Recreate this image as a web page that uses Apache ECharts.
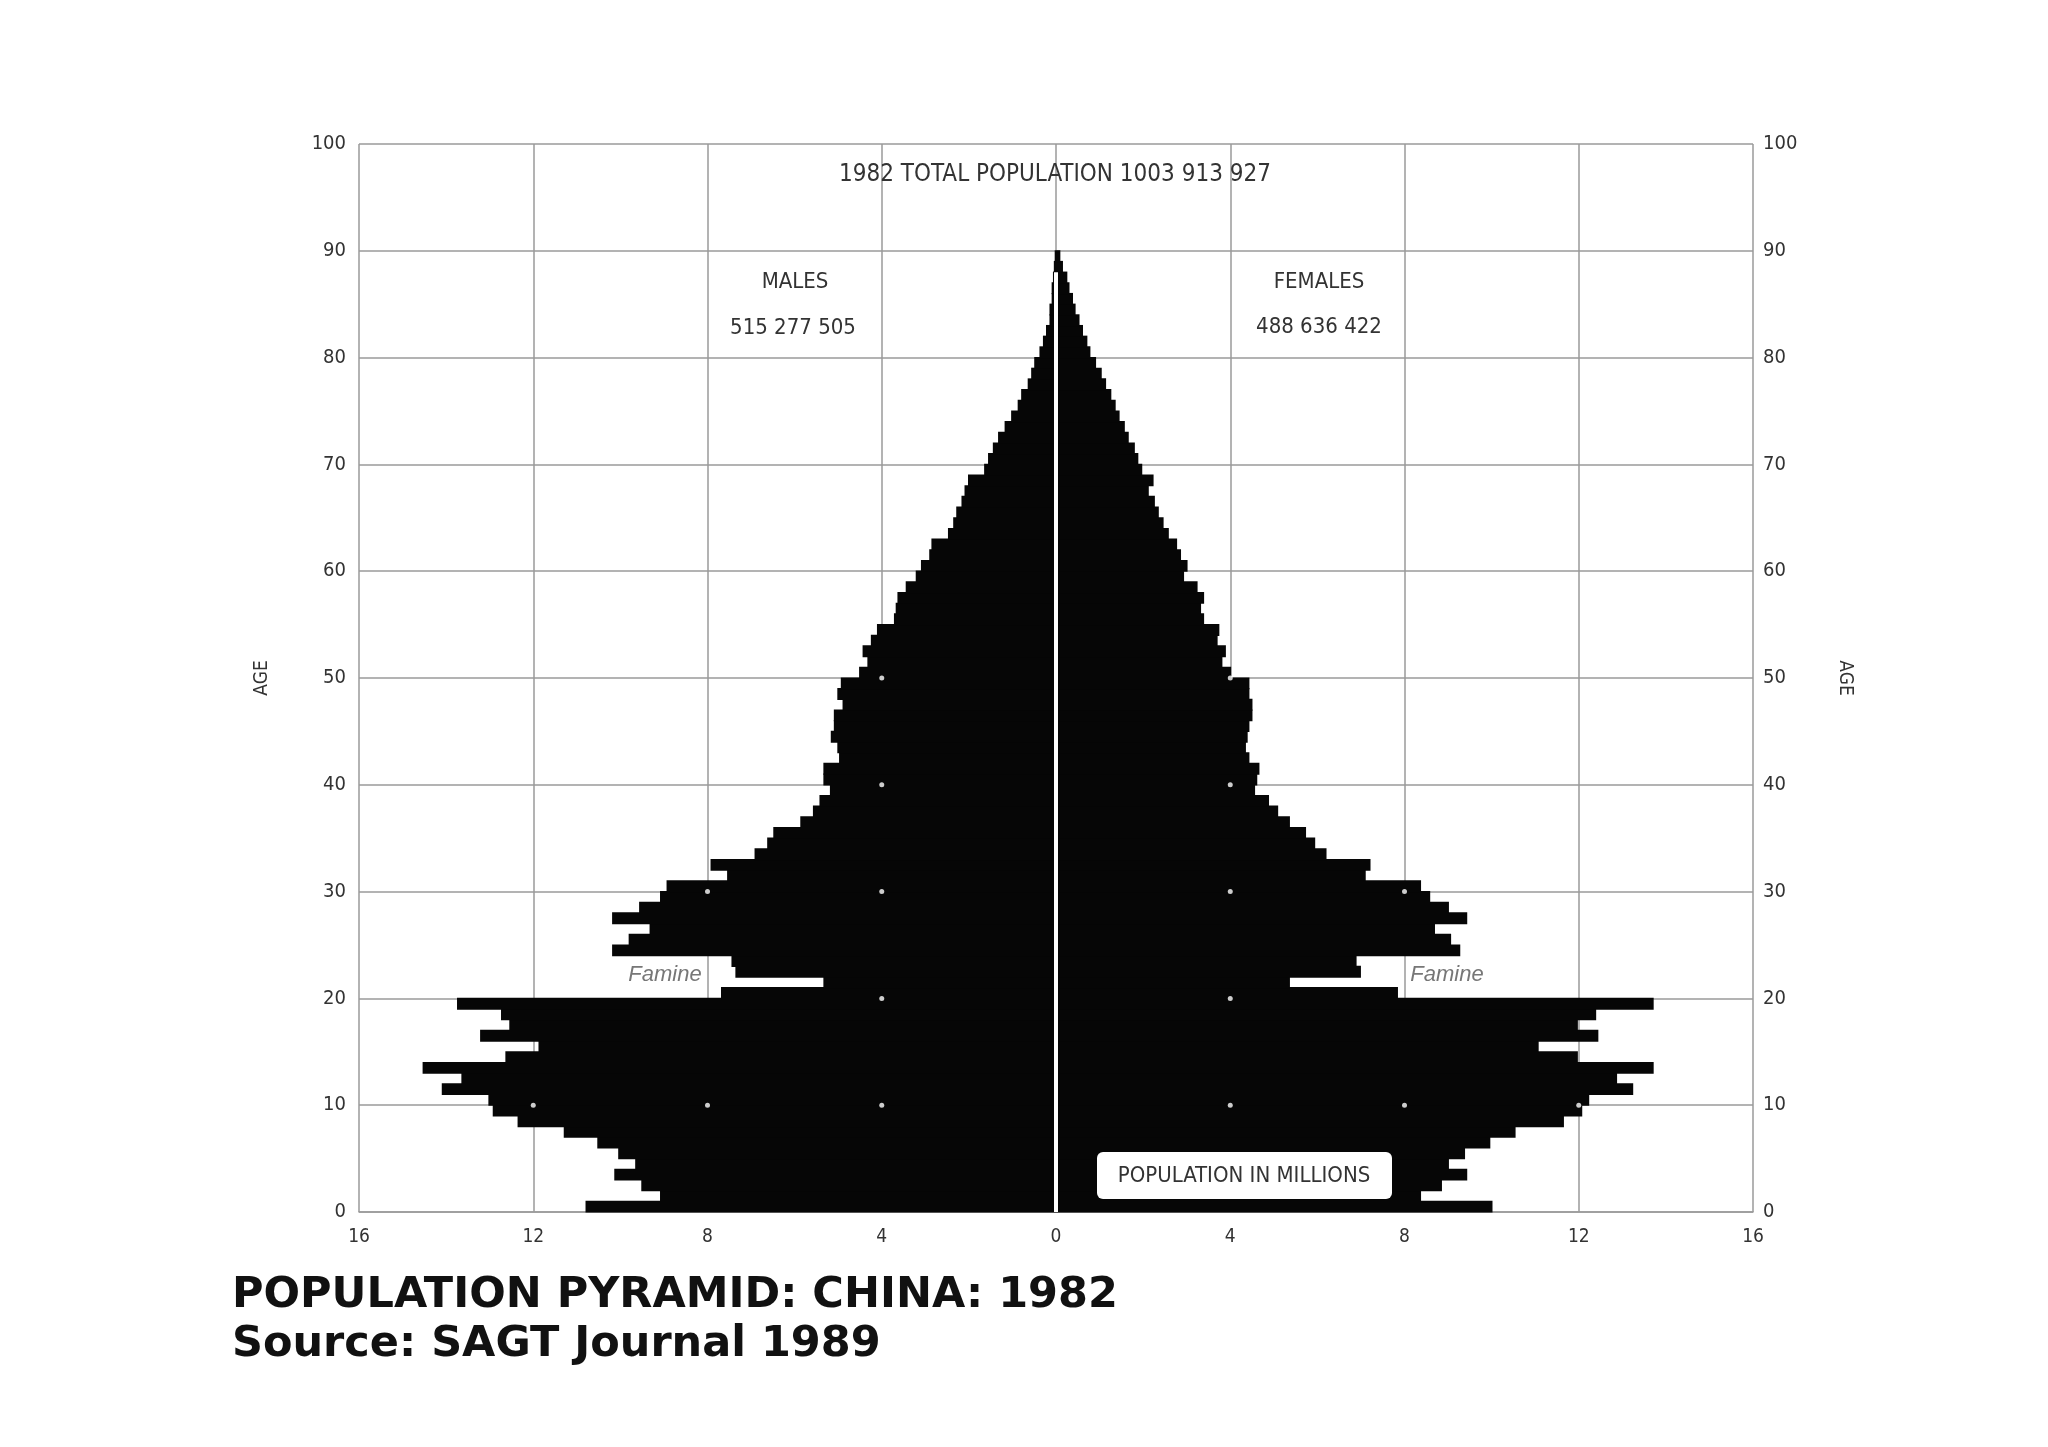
<!DOCTYPE html>
<html>
<head>
<meta charset="utf-8">
<title>Population Pyramid China 1982</title>
<script src="https://cdn.jsdelivr.net/npm/echarts@6/dist/echarts.min.js"></script>
<style>
    html, body { margin: 0; padding: 0; background: #fff; }
    #pyramid { width: 2048px; height: 1447px; }
</style>
</head>
<body>
<div id="pyramid"></div>
<script>
// population by single year of age (millions), index = age 0..89
var males = [
    10.8, 9.09, 9.52, 10.14, 9.66, 10.05, 10.53, 11.3, 12.36, 12.93,
    13.03, 14.1, 13.65, 14.54, 12.64, 11.88, 13.22, 12.55, 12.74, 13.75,
    7.69, 5.34, 7.36, 7.45, 10.19, 9.81, 9.33, 10.19, 9.57, 9.09,
    8.94, 7.55, 7.93, 6.92, 6.63, 6.49, 5.87, 5.58, 5.43, 5.19,
    5.34, 5.34, 4.98, 5.02, 5.17, 5.1, 5.1, 4.9, 5.02, 4.94,
    4.52, 4.33, 4.44, 4.25, 4.11, 3.72, 3.68, 3.64, 3.45, 3.22,
    3.1, 2.91, 2.86, 2.48, 2.36, 2.29, 2.17, 2.1, 2.02, 1.65,
    1.56, 1.45, 1.33, 1.18, 1.03, 0.88, 0.8, 0.65, 0.57, 0.5,
    0.38, 0.3, 0.23, 0.15, 0.15, 0.1, 0.1, 0.07, 0.05, 0.03
]

var females = [
    10.02, 8.38, 8.86, 9.44, 9.02, 9.39, 9.97, 10.55, 11.66, 12.08,
    12.24, 13.25, 12.88, 13.72, 11.98, 11.08, 12.45, 11.98, 12.4, 13.72,
    7.85, 5.37, 7.0, 6.9, 9.28, 9.07, 8.7, 9.44, 9.02, 8.59,
    8.38, 7.11, 7.22, 6.21, 5.95, 5.74, 5.37, 5.1, 4.89, 4.57,
    4.62, 4.67, 4.44, 4.36, 4.4, 4.44, 4.51, 4.51, 4.44, 4.44,
    4.02, 3.82, 3.9, 3.71, 3.75, 3.4, 3.33, 3.4, 3.25, 2.94,
    3.02, 2.87, 2.78, 2.59, 2.47, 2.36, 2.27, 2.13, 2.24, 1.98,
    1.89, 1.81, 1.67, 1.58, 1.46, 1.37, 1.27, 1.15, 1.05, 0.92,
    0.79, 0.72, 0.62, 0.54, 0.45, 0.39, 0.31, 0.26, 0.16, 0.1
]

var ageTicks = [0, 10, 20, 30, 40, 50, 60, 70, 80, 90, 100]
var popTicks = [-12, -8, -4, 4, 8, 12]
var centreLine = [[0, 0], [0, 88]]

var ages = []
var maleData = []
var femaleData = []
var gridDots = []

var narrow = '"Liberation Sans Narrow", "DejaVu Sans Condensed", sans-serif'

// centred text helper for the graphic annotations
function note(text, x, y, size, extra) {
    var style = {
        text: text, fill: '#333', fontSize: size, fontFamily: narrow,
        textAlign: 'center', textVerticalAlign: 'middle', align: 'center', verticalAlign: 'middle'
    }
    for (var k in extra) style[k] = extra[k]
    return { type: 'text', x: x, y: y, z: 100, style: style }
}

// one black band per year of age, overlapping its neighbours by a pixel so no seams show
function renderBand(params, api) {
    var cat = api.value(0)
    var v = api.value(1)
    var from = api.coord([0, cat])
    var to = api.coord([v, cat])
    var h = api.size([0, 1])[1]
    return {
        type: 'rect',
        shape: {
            x: Math.min(from[0], to[0]),
            y: from[1] - h / 2 - 0.6,
            width: Math.abs(to[0] - from[0]),
            height: h + 1.2
        },
        style: { fill: '#060606' }
    }
}

window.onload = function() {
    for (var i = 0; i < 100; i++) {
        ages[i] = String(i)
    }
    for (var i = 0; i < males.length; i++) {
        maleData.push([i, -males[i]])
        femaleData.push([i, females[i]])
    }

    // white dots where grid crossings fall inside the black bars
    for (var a = 1; a < ageTicks.length - 1; a++) {
        var age = ageTicks[a]
        for (var j = 0; j < popTicks.length; j++) {
            var x = popTicks[j]
            var side = x < 0 ? males : females
            var w = Math.min(side[age - 1] || 0, side[age] || 0)
            if (w > Math.abs(x)) {
                gridDots.push([x, age])
            }
        }
    }

    var chart = echarts.init(document.getElementById('pyramid'));

    var gridLine = { color: '#9a9a9a', width: 1.5 }

    var option = {
        backgroundColor: '#fff',
        animation: false,
        grid: {
            left: 359,
            right: 295,
            top: 144,
            bottom: 235
        },
        xAxis: {
            type: 'value',
            min: -16,
            max: 16,
            interval: 4,
            axisLine: { show: true, lineStyle: gridLine },
            axisTick: { show: false },
            splitLine: { show: true, lineStyle: gridLine },
            axisLabel: {
                color: '#333',
                fontSize: 19,
                fontFamily: narrow,
                margin: 16,
                formatter: function(v) { return Math.abs(v) }
            }
        },
        yAxis: [
            {
                type: 'category',
                data: ages,
                show: false
            },
            {
                type: 'value',
                min: 0,
                max: 100,
                interval: 10,
                position: 'left',
                name: 'AGE',
                nameLocation: 'middle',
                nameGap: 87,
                nameRotate: 90,
                nameTextStyle: { color: '#333', fontSize: 19, fontFamily: narrow },
                axisLine: { show: false },
                axisTick: { show: false },
                splitLine: { show: true, lineStyle: gridLine },
                axisLabel: {
                    color: '#333',
                    fontSize: 20,
                    fontFamily: narrow,
                    margin: 13,
                    padding: [0, 0, 14, 0]
                }
            },
            {
                type: 'value',
                min: 0,
                max: 100,
                interval: 10,
                position: 'right',
                name: 'AGE',
                nameLocation: 'middle',
                nameGap: 82,
                nameRotate: -90,
                nameTextStyle: { color: '#333', fontSize: 19, fontFamily: narrow },
                axisLine: { show: false },
                axisTick: { show: false },
                splitLine: { show: false },
                axisLabel: {
                    color: '#333',
                    fontSize: 20,
                    fontFamily: narrow,
                    margin: 10,
                    padding: [0, 0, 14, 0]
                }
            }
        ],
        series: [
            {
                name: 'Males',
                type: 'custom',
                yAxisIndex: 0,
                renderItem: renderBand,
                encode: { y: 0, x: 1 },
                data: maleData
            },
            {
                name: 'Females',
                type: 'custom',
                yAxisIndex: 0,
                renderItem: renderBand,
                encode: { y: 0, x: 1 },
                data: femaleData
            },
            {
                name: 'centre',
                type: 'line',
                yAxisIndex: 1,
                data: centreLine,
                symbol: 'none',
                z: 5,
                lineStyle: { color: '#fff', width: 4 }
            },
            {
                name: 'dots',
                type: 'scatter',
                yAxisIndex: 1,
                data: gridDots,
                symbolSize: 5,
                z: 6,
                itemStyle: { color: '#fff' }
            }
        ],
        graphic: [
            note('1982 TOTAL POPULATION 1003 913 927', 1055, 175, 24),
            note('MALES', 795, 282, 22),
            note('515 277 505', 793, 328, 22),
            note('FEMALES', 1319, 282, 22),
            note('488 636 422', 1319, 327, 22),
            note('Famine', 665, 975, 22, { fill: '#777', fontStyle: 'italic', fontFamily: 'Liberation Sans, sans-serif' }),
            note('Famine', 1447, 975, 22, { fill: '#777', fontStyle: 'italic', fontFamily: 'Liberation Sans, sans-serif' }),
            {
                type: 'rect',
                z: 100,
                shape: { x: 1097, y: 1152, width: 295, height: 47, r: 6 },
                style: { fill: '#fff' }
            },
            note('POPULATION IN MILLIONS', 1244, 1176, 22),
            note('POPULATION PYRAMID: CHINA: 1982', 232, 1296, 43, {
                fill: '#111', fontWeight: 'bold', fontFamily: '"DejaVu Sans", sans-serif',
                textAlign: 'left', align: 'left'
            }),
            note('Source: SAGT Journal 1989', 232, 1345, 43, {
                fill: '#111', fontWeight: 'bold', fontFamily: '"DejaVu Sans", sans-serif',
                textAlign: 'left', align: 'left'
            })
        ]
    };

    chart.setOption(option);

    window.onresize = function() {
        chart.resize();
    };
}
</script>
</body>
</html>
